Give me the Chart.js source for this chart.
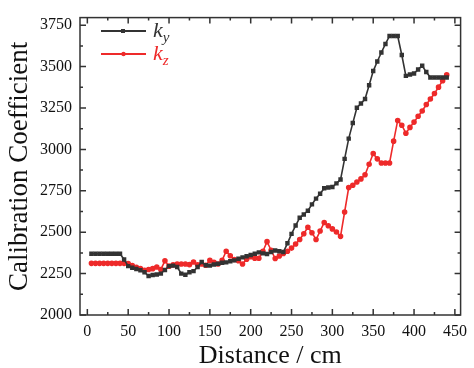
<!DOCTYPE html>
<html>
<head>
<meta charset="utf-8">
<script src="https://cdn.jsdelivr.net/npm/chart.js@4/dist/chart.umd.min.js"></script>
<style>
  body { margin: 0; background: #fff; }
  #wrap { width: 474px; height: 368px; }
</style>
</head>
<body>
<div id="wrap"><canvas id="chart"></canvas></div>
<script>
const distance = [5, 10, 15, 20, 25, 30, 35, 40, 45, 50, 55, 60, 65, 70, 75, 80, 85, 90, 95, 100,
  105, 110, 115, 120, 125, 130, 135, 140, 145, 150, 155, 160, 165, 170, 175, 180, 185, 190, 195, 200,
  205, 210, 215, 220, 225, 230, 235, 240, 245, 250, 255, 260, 265, 270, 275, 280, 285, 290, 295, 300,
  305, 310, 315, 320, 325, 330, 335, 340, 345, 350, 355, 360, 365, 370, 375, 380, 385, 390, 395, 400,
  405, 410, 415, 420, 425, 430, 435, 440];

const ky = [2370, 2370, 2370, 2370, 2370, 2370, 2370, 2370, 2335, 2295, 2285, 2278, 2270, 2258, 2235, 2242, 2245, 2250, 2272, 2295,
  2298, 2290, 2250, 2243, 2258, 2265, 2290, 2320, 2300, 2298, 2305, 2310, 2315, 2318, 2325, 2330, 2340, 2348, 2355, 2362,
  2370, 2378, 2372, 2368, 2380, 2390, 2385, 2380, 2433, 2490, 2540, 2587, 2607, 2630, 2668, 2703, 2732, 2765, 2770, 2773,
  2795, 2818, 2943, 3065, 3159, 3252, 3277, 3304, 3387, 3473, 3531, 3585, 3637, 3685, 3685, 3685, 3570, 3444, 3452, 3458,
  3483, 3505, 3467, 3434, 3434, 3434, 3434, 3434];

const kz = [2312, 2312, 2312, 2312, 2312, 2312, 2312, 2312, 2312, 2310, 2298, 2288, 2280, 2270, 2275, 2280, 2290, 2275, 2327, 2295,
  2303, 2308, 2308, 2308, 2304, 2320, 2303, 2308, 2300, 2330, 2318, 2308, 2330, 2385, 2358, 2335, 2328, 2308, 2337, 2352,
  2343, 2343, 2385, 2443, 2391, 2341, 2356, 2372, 2385, 2404, 2429, 2456, 2491, 2530, 2497, 2456, 2507, 2559, 2539, 2520,
  2501, 2475, 2622, 2770, 2784, 2803, 2822, 2847, 2910, 2975, 2943, 2918, 2918, 2918, 3050, 3175, 3146, 3098, 3133, 3165,
  3200, 3232, 3271, 3304, 3338, 3376, 3415, 3450];

const xTicks = [0, 50, 100, 150, 200, 250, 300, 350, 400, 450];
const yTicks = [2000, 2250, 2500, 2750, 3000, 3250, 3500, 3750];

const BLACK = "#333333";
const RED = "#ee2a2a";
const SERIF = "'Liberation Serif', 'Times New Roman', serif";

// frame box + inward ticks on all four sides
const framePlugin = {
  id: "frame",
  afterDraw(chart) {
    const ctx = chart.ctx;
    const a = chart.chartArea;
    const sx = chart.scales.x;
    const sy = chart.scales.y;
    ctx.save();
    ctx.strokeStyle = BLACK;
    ctx.lineWidth = 1.5;
    ctx.strokeRect(a.left, a.top, a.right - a.left, a.bottom - a.top);
    ctx.beginPath();
    xTicks.forEach((v, i) => {
      const px = sx.getPixelForValue(v);
      ctx.moveTo(px, a.bottom); ctx.lineTo(px, a.bottom - 6);
      ctx.moveTo(px, a.top); ctx.lineTo(px, a.top + 6);
      if (i < xTicks.length - 1) {
        const mx = sx.getPixelForValue((v + xTicks[i + 1]) / 2);
        ctx.moveTo(mx, a.bottom); ctx.lineTo(mx, a.bottom - 3);
        ctx.moveTo(mx, a.top); ctx.lineTo(mx, a.top + 3);
      }
    });
    yTicks.forEach((v, i) => {
      const py = sy.getPixelForValue(v);
      ctx.moveTo(a.left, py); ctx.lineTo(a.left + 6, py);
      ctx.moveTo(a.right, py); ctx.lineTo(a.right - 6, py);
      if (i < yTicks.length - 1) {
        const my = sy.getPixelForValue((v + yTicks[i + 1]) / 2);
        ctx.moveTo(a.left, my); ctx.lineTo(a.left + 3, my);
        ctx.moveTo(a.right, my); ctx.lineTo(a.right - 3, my);
      }
    });
    ctx.stroke();
    ctx.restore();
  }
};

// legend with subscripts (k_y, k_z)
const legendPlugin = {
  id: "subLegend",
  afterDraw(chart) {
    const ctx = chart.ctx;
    const items = [
      { sub: "y", color: BLACK, y: 31, square: true },
      { sub: "z", color: RED, y: 54, square: false }
    ];
    ctx.save();
    items.forEach((it) => {
      ctx.strokeStyle = it.color;
      ctx.fillStyle = it.color;
      ctx.lineWidth = 1.8;
      ctx.beginPath();
      ctx.moveTo(101, it.y);
      ctx.lineTo(146, it.y);
      ctx.stroke();
      if (it.square) {
        ctx.fillRect(121, it.y - 2, 4, 4);
      } else {
        ctx.beginPath();
        ctx.arc(123.5, it.y, 2.2, 0, Math.PI * 2);
        ctx.fill();
      }
      ctx.textBaseline = "alphabetic";
      ctx.font = "italic 22px " + SERIF;
      ctx.fillText("k", 153, it.y + 6);
      const w = ctx.measureText("k").width;
      ctx.font = "italic 15px " + SERIF;
      ctx.fillText(it.sub, 153 + w, it.y + 11);
    });
    ctx.restore();
  }
};

new Chart(document.getElementById("chart"), {
  type: "line",
  data: {
    datasets: [
      {
        label: "ky",
        data: distance.map((d, i) => ({ x: d, y: ky[i] })),
        borderColor: BLACK,
        backgroundColor: BLACK,
        borderWidth: 1.6,
        pointStyle: "rect",
        pointRadius: 2,
        pointHoverRadius: 2,
        tension: 0
      },
      {
        label: "kz",
        data: distance.map((d, i) => ({ x: d, y: kz[i] })),
        borderColor: RED,
        backgroundColor: RED,
        borderWidth: 1.6,
        pointStyle: "circle",
        pointRadius: 2,
        pointHoverRadius: 2,
        tension: 0
      }
    ]
  },
  options: {
    responsive: true,
    maintainAspectRatio: false,
    animation: false,
    layout: { padding: { top: 3, right: 8, left: 0, bottom: 0 } },
    plugins: {
      legend: { display: false },
      tooltip: { enabled: false }
    },
    scales: {
      x: {
        type: "linear",
        min: -9,
        max: 457,
        afterBuildTicks: (s) => { s.ticks = xTicks.map((v) => ({ value: v })); },
        afterFit: (s) => { s.height = 53; },
        grid: { display: false, drawTicks: false },
        border: { display: false },
        ticks: {
          color: "#111",
          padding: 7,
          maxRotation: 0,
          autoSkip: false,
          font: { family: SERIF, size: 16 },
          callback: (v) => String(v)
        },
        title: {
          display: true,
          text: "Distance / cm",
          color: "#111",
          padding: { top: 0, bottom: -4 },
          font: { family: SERIF, size: 26 }
        }
      },
      y: {
        type: "linear",
        min: 2000,
        max: 3796,
        afterBuildTicks: (s) => { s.ticks = yTicks.map((v) => ({ value: v })); },
        afterFit: (s) => { s.width = 80; },
        grid: { display: false, drawTicks: false },
        border: { display: false },
        ticks: {
          color: "#111",
          padding: 8,
          autoSkip: false,
          font: { family: SERIF, size: 16 },
          callback: (v) => String(v)
        },
        title: {
          display: true,
          text: "Calibration Coefficient",
          color: "#111",
          padding: { top: 4, bottom: 0 },
          font: { family: SERIF, size: 27 }
        }
      }
    }
  },
  plugins: [framePlugin, legendPlugin]
});
</script>
</body>
</html>
